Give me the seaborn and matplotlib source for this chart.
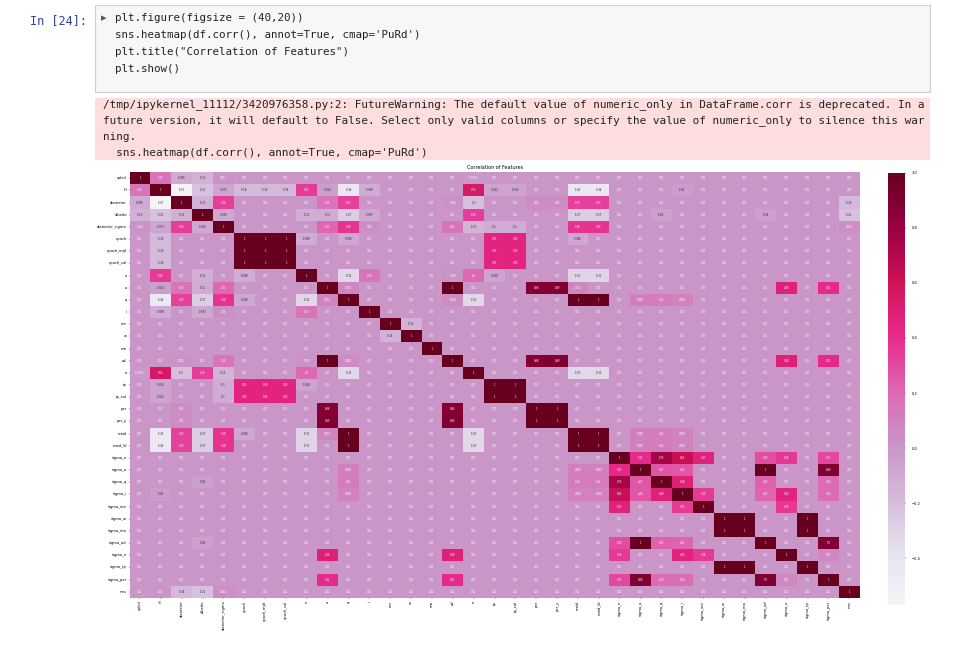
import matplotlib
matplotlib.use("Agg")
import matplotlib.pyplot as plt
import matplotlib.patches as mpatches
import numpy as np
import pandas as pd
import seaborn as sns

features = ['spkid', 'H', 'diameter', 'albedo', 'diameter_sigma', 'epoch', 'epoch_mjd',
            'epoch_cal', 'e', 'a', 'q', 'i', 'om', 'w', 'ma', 'ad', 'n', 'tp', 'tp_cal',
            'per', 'per_y', 'moid', 'moid_ld', 'sigma_e', 'sigma_a', 'sigma_q', 'sigma_i',
            'sigma_om', 'sigma_w', 'sigma_ma', 'sigma_ad', 'sigma_n', 'sigma_tp',
            'sigma_per', 'rms']

# small background correlation for pairs not listed below
base_corr = 0.01

# notable correlations (upper triangle)
pairs = [
    ('spkid', 'H', 0.15), ('spkid', 'diameter', -0.095), ('spkid', 'albedo', -0.13),
    ('spkid', 'diameter_sigma', 0.021), ('spkid', 'n', -0.0032),
    ('H', 'diameter', -0.57), ('H', 'albedo', -0.22), ('H', 'diameter_sigma', -0.071),
    ('H', 'epoch', -0.18), ('H', 'epoch_mjd', -0.18), ('H', 'epoch_cal', -0.18),
    ('H', 'e', 0.35), ('H', 'a', -0.032), ('H', 'q', -0.44), ('H', 'i', -0.098),
    ('H', 'n', 0.55), ('H', 'tp', -0.062), ('H', 'tp_cal', -0.062),
    ('H', 'moid', -0.43), ('H', 'moid_ld', -0.44), ('H', 'sigma_i', -0.03),
    ('diameter', 'albedo', -0.13), ('diameter', 'diameter_sigma', 0.34),
    ('diameter', 'a', 0.15), ('diameter', 'q', 0.33), ('diameter', 'n', -0.2),
    ('diameter', 'ad', 0.035), ('diameter', 'per', 0.05), ('diameter', 'per_y', 0.05),
    ('diameter', 'moid', 0.33), ('diameter', 'moid_ld', 0.33), ('diameter', 'rms', -0.18),
    ('albedo', 'diameter_sigma', -0.081), ('albedo', 'e', -0.12), ('albedo', 'a', -0.11),
    ('albedo', 'q', -0.27), ('albedo', 'n', 0.34), ('albedo', 'moid', -0.27),
    ('albedo', 'moid_ld', -0.27), ('albedo', 'sigma_q', -0.04), ('albedo', 'sigma_ad', -0.04),
    ('albedo', 'rms', -0.22), ('albedo', 'i', -0.087),
    ('diameter_sigma', 'a', 0.21), ('diameter_sigma', 'q', 0.38), ('diameter_sigma', 'i', 0.04),
    ('diameter_sigma', 'n', -0.15), ('diameter_sigma', 'ad', 0.15), ('diameter_sigma', 'tp', -0.1),
    ('diameter_sigma', 'tp_cal', -0.1), ('diameter_sigma', 'moid', 0.38),
    ('diameter_sigma', 'moid_ld', 0.38), ('diameter_sigma', 'rms', 0.044),
    ('epoch', 'epoch_mjd', 1.0), ('epoch', 'epoch_cal', 1.0), ('epoch_mjd', 'epoch_cal', 1.0),
    ('epoch', 'tp', 0.45), ('epoch', 'tp_cal', 0.45), ('epoch_mjd', 'tp', 0.45),
    ('epoch_mjd', 'tp_cal', 0.45), ('epoch_cal', 'tp', 0.45), ('epoch_cal', 'tp_cal', 0.45),
    ('epoch', 'e', -0.098), ('epoch', 'q', -0.086), ('epoch', 'moid', -0.086),
    ('e', 'q', -0.32), ('e', 'i', 0.15), ('e', 'n', 0.2), ('e', 'moid', -0.31),
    ('e', 'moid_ld', -0.31), ('e', 'ad', 0.029), ('e', 'tp', -0.058),
    ('a', 'q', 0.074), ('a', 'ad', 1.0), ('a', 'per', 0.88), ('a', 'per_y', 0.89),
    ('a', 'sigma_per', 0.41), ('a', 'moid', 0.074),
    ('q', 'moid', 1.0), ('q', 'moid_ld', 1.0), ('q', 'n', -0.33), ('q', 'ad', 0.054),
    ('q', 'sigma_a', 0.099), ('q', 'sigma_q', 0.12), ('q', 'sigma_i', 0.098),
    ('om', 'w', -0.14), ('ad', 'per', 0.88), ('ad', 'per_y', 0.89), ('ad', 'sigma_per', 0.41),
    ('n', 'moid', -0.33), ('n', 'moid_ld', -0.33),
    ('tp', 'tp_cal', 1.0), ('per', 'per_y', 1.0), ('moid', 'moid_ld', 1.0),
    ('moid', 'sigma_a', 0.099), ('moid', 'sigma_q', 0.12), ('moid', 'sigma_i', 0.098),
    ('moid_ld', 'sigma_a', 0.099), ('moid_ld', 'sigma_q', 0.12), ('moid_ld', 'sigma_i', 0.098),
    ('a', 'sigma_n', 0.48), ('ad', 'sigma_n', 0.48),
    ('sigma_e', 'sigma_a', 0.42), ('sigma_e', 'sigma_q', 0.75), ('sigma_e', 'sigma_i', 0.62),
    ('sigma_e', 'sigma_om', 0.47), ('sigma_e', 'sigma_ad', 0.29), ('sigma_e', 'sigma_n', 0.36),
    ('sigma_e', 'sigma_per', 0.31),
    ('sigma_a', 'sigma_q', 0.27), ('sigma_a', 'sigma_i', 0.26), ('sigma_a', 'sigma_ad', 1.0),
    ('sigma_a', 'sigma_per', 0.89),
    ('sigma_q', 'sigma_i', 0.48), ('sigma_q', 'sigma_ad', 0.23), ('sigma_q', 'sigma_per', 0.19),
    ('sigma_i', 'sigma_om', 0.35), ('sigma_i', 'sigma_ad', 0.22), ('sigma_i', 'sigma_n', 0.45),
    ('sigma_i', 'sigma_per', 0.18),
    ('sigma_om', 'sigma_n', 0.36),
    ('sigma_w', 'sigma_ma', 1.0), ('sigma_w', 'sigma_tp', 1.0), ('sigma_ma', 'sigma_tp', 1.0),
    ('sigma_ad', 'sigma_per', 0.9), ('sigma_n', 'sigma_per', 0.07),
]

corr = pd.DataFrame(base_corr, index=features, columns=features)
for a, b, v in pairs:
    corr.loc[a, b] = v
    corr.loc[b, a] = v
for f in features:
    corr.loc[f, f] = 1.0

fig = plt.figure(figsize=(9.67, 6.52), dpi=100)
mono = ['DejaVu Sans Mono']

# notebook cell chrome
fig.text(0.031, 0.969, 'In [24]:', color='#303F9F', family=mono, fontsize=8.5, va='center')
fig.patches.append(mpatches.Rectangle((0.098, 0.859), 0.864, 0.133, transform=fig.transFigure,
                                      facecolor='#f7f7f7', edgecolor='#cfcfcf', lw=0.8))
code = ['plt.figure(figsize = (40,20))',
        "sns.heatmap(df.corr(), annot=True, cmap='PuRd')",
        'plt.title("Correlation of Features")',
        'plt.show()']
for k, line in enumerate(code):
    fig.text(0.119, 0.972 - k * 0.026, line, family=mono, fontsize=7.8, va='center', color='#222222')
fig.text(0.104, 0.972, '\u25b8', fontsize=8, va='center', color='#555555')

fig.patches.append(mpatches.Rectangle((0.098, 0.755), 0.864, 0.095, transform=fig.transFigure,
                                      facecolor='#fddddd', edgecolor='none'))
warn = ['/tmp/ipykernel_11112/3420976358.py:2: FutureWarning: The default value of numeric_only in DataFrame.corr is deprecated. In a',
        'future version, it will default to False. Select only valid columns or specify the value of numeric_only to silence this war',
        'ning.',
        "  sns.heatmap(df.corr(), annot=True, cmap='PuRd')"]
for k, line in enumerate(warn):
    fig.text(0.107, 0.839 - k * 0.0245, line, family=mono, fontsize=7.9, va='center', color='#222222')

ax = fig.add_axes([0.134, 0.083, 0.755, 0.653])
cax = fig.add_axes([0.918, 0.072, 0.018, 0.663])
sns.heatmap(corr, annot=True, cmap='PuRd', ax=ax, cbar_ax=cax,
            annot_kws={'fontsize': 1.8}, xticklabels=True, yticklabels=True)
ax.set_title('Correlation of Features', fontsize=3.5, pad=2)
ax.tick_params(labelsize=2.6, length=1, width=0.3, pad=1)
cax.tick_params(labelsize=2.6, length=1, width=0.3)
for s in cax.spines.values():
    s.set_visible(False)

plt.savefig('out.png', dpi=100)
